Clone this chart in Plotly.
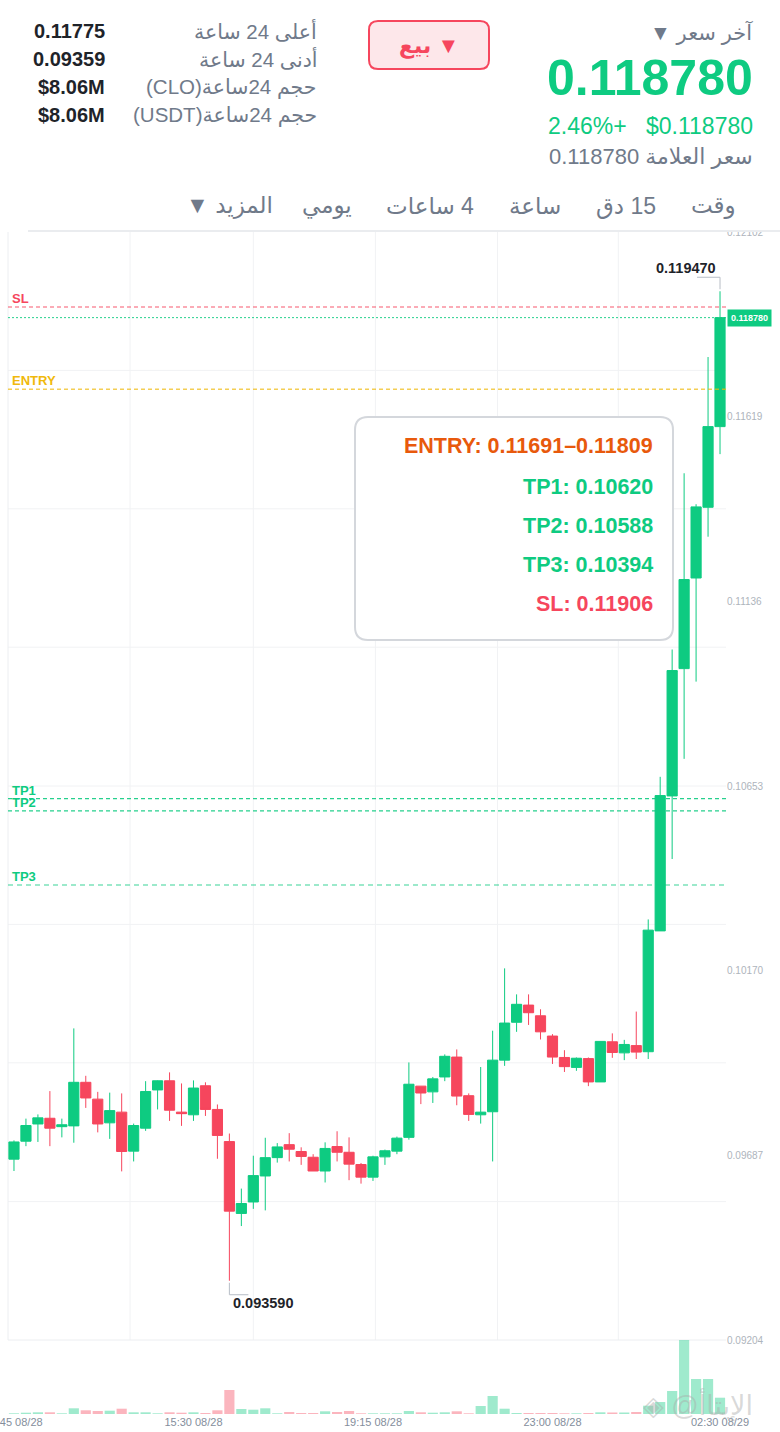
import plotly.graph_objects as go

# 15-minute candles, 11:45 08/28 -> 02:30 08/29
opens = [0.09677, 0.09724, 0.09769, 0.09784, 0.09762, 0.09764, 0.09878, 0.09834, 0.09772, 0.09800,
         0.09698, 0.09758, 0.09858, 0.09882, 0.09800, 0.09793, 0.09869, 0.09807, 0.09723, 0.09535,
         0.09565, 0.09633, 0.09681, 0.09715, 0.09697, 0.09682, 0.09646, 0.09710, 0.09695, 0.09663,
         0.09630, 0.09683, 0.09698, 0.09734, 0.09868, 0.09853, 0.09892, 0.09944, 0.09843, 0.09793,
         0.09801, 0.09936, 0.10035, 0.10080, 0.10052, 0.09999, 0.09943, 0.09917, 0.09940, 0.09879,
         0.09984, 0.09955, 0.09974, 0.09958, 0.10274, 0.10627, 0.10960, 0.11197, 0.11382, 0.11593]
highs = [0.09726, 0.09783, 0.09794, 0.09855, 0.09783, 0.10019, 0.09895, 0.09853, 0.09851, 0.09849,
         0.09770, 0.09881, 0.09883, 0.09904, 0.09875, 0.09883, 0.09878, 0.09820, 0.09744, 0.09600,
         0.09686, 0.09733, 0.09719, 0.09745, 0.09708, 0.09690, 0.09721, 0.09750, 0.09734, 0.09667,
         0.09686, 0.09702, 0.09736, 0.09930, 0.09868, 0.09892, 0.09951, 0.09964, 0.09849, 0.09918,
         0.10013, 0.10176, 0.10108, 0.10108, 0.10069, 0.10004, 0.09962, 0.09943, 0.09943, 0.09985,
         0.10006, 0.09989, 0.10063, 0.10304, 0.10677, 0.11010, 0.11471, 0.11390, 0.11775, 0.11947]
lows = [0.09646, 0.09711, 0.09722, 0.09711, 0.09734, 0.09720, 0.09811, 0.09747, 0.09730, 0.09645,
        0.09671, 0.09751, 0.09807, 0.09777, 0.09764, 0.09777, 0.09790, 0.09678, 0.09359, 0.09502,
        0.09547, 0.09543, 0.09668, 0.09671, 0.09662, 0.09646, 0.09616, 0.09671, 0.09622, 0.09613,
        0.09620, 0.09662, 0.09690, 0.09728, 0.09821, 0.09824, 0.09881, 0.09818, 0.09777, 0.09770,
        0.09671, 0.09921, 0.10010, 0.10028, 0.09990, 0.09926, 0.09905, 0.09908, 0.09868, 0.09879,
        0.09942, 0.09936, 0.09939, 0.09939, 0.10274, 0.10462, 0.10724, 0.10926, 0.11305, 0.11521]
closes = [0.09722, 0.09765, 0.09785, 0.09758, 0.09767, 0.09878, 0.09837, 0.09769, 0.09804, 0.09697,
          0.09765, 0.09854, 0.09882, 0.09805, 0.09796, 0.09863, 0.09807, 0.09739, 0.09541, 0.09561,
          0.09634, 0.09681, 0.09709, 0.09703, 0.09684, 0.09646, 0.09705, 0.09695, 0.09664, 0.09630,
          0.09683, 0.09699, 0.09732, 0.09873, 0.09850, 0.09887, 0.09946, 0.09842, 0.09794, 0.09800,
          0.09936, 0.10033, 0.10082, 0.10060, 0.10010, 0.09944, 0.09919, 0.09941, 0.09879, 0.09985,
          0.09956, 0.09977, 0.09957, 0.10276, 0.10628, 0.10955, 0.11193, 0.11383, 0.11593, 0.11878]
# volume, thousand USDT
volumes = [14, 26, 34, 34, 14, 114, 74, 60, 66, 106,
           34, 34, 14, 34, 26, 34, 20, 74, 480, 100,
           86, 114, 14, 40, 20, 20, 54, 40, 60, 14,
           14, 14, 14, 60, 34, 26, 34, 54, 14, 160,
           360, 106, 20, 20, 20, 20, 14, 14, 20, 34,
           30, 30, 40, 166, 240, 460, 1480, 700, 700, 326]

tick_pos = [0, 15, 30, 45, 59]
tick_text = ["11:45 08/28", "15:30 08/28", "19:15 08/28", "23:00 08/28", "02:30 08/29"]
price_ticks = [0.12102, 0.11619, 0.11136, 0.10653, 0.10170, 0.09687, 0.09204]

entry = [0.11691, 0.11809]
tps = [0.10620, 0.10588, 0.10394]
sl = 0.11906
last_price = 0.118780
high_24h = 0.11775
low_24h = 0.09359
vol_clo = "$8.06M"
vol_usdt = "$8.06M"
change_pct = 2.46

# layout constants
UP = "#0ecb81"
DOWN = "#f6465d"
UP_LIGHT = "rgba(14,203,129,0.4)"
DOWN_LIGHT = "rgba(246,70,93,0.4)"
GRAY = "#707a8a"
DARK = "#1e2329"
GRID = "#f1f2f4"
FONT = "Liberation Sans, Arial, DejaVu Sans, sans-serif"
W, H = 780, 1432
L, R, T, B = 8, 54, 232, 18
VOL_TOP = 74 / (H - T - B)
grid_prices = [0.11740, 0.11378, 0.11016, 0.10653, 0.10291, 0.09929, 0.09566]
grid_times = [9.7, 20.0, 30.2, 40.4, 50.5]


def px_x(x):
    return (x - L) / (W - L - R)


def px_y(y):
    return (H - B - y) / (H - T - B)


def rtl(s):
    return "\u202b" + s + "\u202c"


def rounded(x0, y0, x1, y1, r):
    X, Y = px_x, px_y
    return (f"M {X(x0 + r)},{Y(y0)} L {X(x1 - r)},{Y(y0)} Q {X(x1)},{Y(y0)} {X(x1)},{Y(y0 + r)} "
            f"L {X(x1)},{Y(y1 - r)} Q {X(x1)},{Y(y1)} {X(x1 - r)},{Y(y1)} L {X(x0 + r)},{Y(y1)} "
            f"Q {X(x0)},{Y(y1)} {X(x0)},{Y(y1 - r)} L {X(x0)},{Y(y0 + r)} Q {X(x0)},{Y(y0)} {X(x0 + r)},{Y(y0)} Z")


idx = list(range(len(opens)))

fig = go.Figure()
fig.add_trace(go.Candlestick(
    x=idx, open=opens, high=highs, low=lows, close=closes,
    increasing=dict(line=dict(color=UP, width=1), fillcolor=UP),
    decreasing=dict(line=dict(color=DOWN, width=1), fillcolor=DOWN),
    whiskerwidth=0, showlegend=False, hoverinfo="skip", xaxis="x", yaxis="y"))
fig.add_trace(go.Bar(
    x=idx, y=volumes, width=0.85,
    marker=dict(color=[UP_LIGHT if c >= o else DOWN_LIGHT for o, c in zip(opens, closes)], line_width=0),
    showlegend=False, hoverinfo="skip", xaxis="x", yaxis="y2"))

shapes = []
for p in grid_prices:
    shapes.append(dict(type="line", xref="x domain", x0=0, x1=1, yref="y", y0=p, y1=p,
                       line=dict(color=GRID, width=1), layer="below"))
for t in grid_times:
    shapes.append(dict(type="line", xref="x", x0=t, x1=t, yref="y domain", y0=0, y1=1,
                       line=dict(color=GRID, width=1), layer="below"))
shapes.append(dict(type="line", xref="x domain", x0=0, x1=0, yref="y domain", y0=0, y1=1,
                   line=dict(color="#eceef1", width=1), layer="below"))
shapes.append(dict(type="line", xref="x domain", x0=0, x1=1, yref="y domain", y0=0, y1=0,
                   line=dict(color="#eceef1", width=1), layer="below"))

levels = [
    ("SL", sl, "rgba(246,70,93,0.6)", "4px,3px", 1.5, DOWN),
    (None, last_price, "rgba(14,203,129,0.9)", "2px,2px", 1, None),
    ("ENTRY", entry[0], "rgba(240,185,11,0.7)", "4px,3px", 1.5, "#f0b90b"),
    ("TP1", tps[0], "rgba(14,203,129,0.9)", "4px,3px", 1.2, UP),
    ("TP2", tps[1], "rgba(14,203,129,0.9)", "4px,3px", 1.2, UP),
    ("TP3", tps[2], "rgba(14,203,129,0.55)", "5px,4px", 1.6, UP),
]
annotations = []
for name, val, col, dash, lw, tcol in levels:
    shapes.append(dict(type="line", xref="x domain", x0=0, x1=1, yref="y", y0=val, y1=val,
                       line=dict(color=col, width=lw, dash=dash), layer="above"))
    if name:
        annotations.append(dict(text=f"<b>{name}</b>", xref="paper", x=px_x(10), xanchor="left",
                                yref="y", y=val, yanchor="bottom", yshift=-1, showarrow=False,
                                font=dict(family=FONT, size=13, color=tcol)))

# header cover + separator
shapes.append(dict(type="rect", xref="paper", yref="paper", x0=px_x(0), x1=px_x(W), y0=px_y(0), y1=px_y(231),
                   fillcolor="white", line_width=0, layer="above"))
shapes.append(dict(type="line", xref="paper", yref="paper", x0=px_x(28), x1=px_x(W), y0=px_y(231), y1=px_y(231),
                   line=dict(color="#eaecef", width=2), layer="above"))
# sell button
shapes.append(dict(type="path", xref="paper", yref="paper", path=rounded(369, 21, 489, 69, 9),
                   fillcolor="#fde7ea", line=dict(color=DOWN, width=2), layer="above"))
# signal box
shapes.append(dict(type="path", xref="paper", yref="paper", path=rounded(355, 417, 673, 640, 13),
                   fillcolor="white", line=dict(color="#d4d7dc", width=2), layer="above"))

# high / low markers
hi_i = highs.index(max(highs))
lo_i = lows.index(min(lows))
shapes.append(dict(type="path", xref="x", yref="y", xsizemode="pixel", ysizemode="pixel",
                   xanchor=hi_i, yanchor=highs[hi_i], path="M 0,2 L 0,14 L -23,14",
                   line=dict(color="#b7bdc6", width=1), layer="above"))
shapes.append(dict(type="path", xref="x", yref="y", xsizemode="pixel", ysizemode="pixel",
                   xanchor=lo_i, yanchor=lows[lo_i], path="M 0,-2 L 0,-14 L 19,-14",
                   line=dict(color="#b7bdc6", width=1), layer="above"))
annotations.append(dict(text=f"<b>{highs[hi_i]:.6f}</b>", x=hi_i, y=highs[hi_i], xref="x", yref="y",
                        xanchor="right", yanchor="middle", xshift=-2, yshift=23, showarrow=False,
                        font=dict(family=FONT, size=14.5, color=DARK)))
annotations.append(dict(text=f"<b>{lows[lo_i]:.6f}</b>", x=lo_i, y=lows[lo_i], xref="x", yref="y",
                        xanchor="left", yanchor="middle", xshift=2, yshift=-22, showarrow=False,
                        font=dict(family=FONT, size=14.5, color=DARK)))

# last price tag
annotations.append(dict(text=f"<b>{last_price:.6f}</b>", xref="paper", x=1, xanchor="left", xshift=1,
                        yref="y", y=last_price, yanchor="middle", showarrow=False, bgcolor=UP,
                        borderpad=3, font=dict(family=FONT, size=9, color="white")))


def label(text, x, y, size, color, anchor="right", bold=False):
    shift = {"right": 3, "left": -3, "center": 0}[anchor]
    annotations.append(dict(text=f"<b>{text}</b>" if bold else text, xref="paper", yref="paper",
                            x=px_x(x), y=px_y(y), xanchor=anchor, yanchor="middle", xshift=shift,
                            showarrow=False, font=dict(family=FONT, size=size, color=color)))


# signal box text
box_lines = [
    (f"ENTRY: {entry[0]:.5f}–{entry[1]:.5f}", "#e8590c", 446),
    (f"TP1: {tps[0]:.5f}", UP, 487),
    (f"TP2: {tps[1]:.5f}", UP, 526),
    (f"TP3: {tps[2]:.5f}", UP, 565),
    (f"SL: {sl:.5f}", DOWN, 604),
]
for txt, col, yy in box_lines:
    label(txt, 652, yy, 21.5, col, bold=True)

# header
label(f"{high_24h:.5f}", 104, 31, 20, DARK, bold=True)
label(f"{low_24h:.5f}", 104, 59, 20, DARK, bold=True)
label(vol_clo, 104, 87, 20, DARK, bold=True)
label(vol_usdt, 104, 115, 20, DARK, bold=True)
label(rtl("أعلى 24 ساعة"), 316, 31, 20.5, GRAY)
label(rtl("أدنى 24 ساعة"), 316, 59, 20.5, GRAY)
label(rtl("حجم 24ساعة(CLO)"), 316, 87, 20.5, GRAY)
label(rtl("حجم 24ساعة(USDT)"), 316, 115, 20.5, GRAY)
label(rtl("▼ بيع"), 429, 46, 22, DOWN, anchor="center", bold=True)
label(rtl("آخر سعر ▼"), 752, 32, 21, GRAY)
label(f"<b>{last_price:.6f}</b>", 752, 78, 50, UP)
label(f"${last_price:.6f}", 752, 126, 23, UP)
label(f"{change_pct:.2f}%+", 626, 126, 23, UP)
label(rtl(f"سعر العلامة {last_price:.6f}"), 752, 156, 22, GRAY)
tabs = [("وقت", 713), ("15 دق", 626), ("ساعة", 535), ("4 ساعات", 430), ("يومي", 327), ("المزيد ▼", 229)]
for txt, xx in tabs:
    label(rtl(txt), xx, 206, 23, GRAY, anchor="center")
label(rtl("الإيتاأ@ ◈"), 698, 1404, 27, "rgba(170,170,170,0.45)", anchor="center")

fig.update_layout(
    width=W, height=H,
    margin=dict(l=L, r=R, t=T, b=B, autoexpand=False),
    paper_bgcolor="white", plot_bgcolor="white",
    boxgap=0.15, boxgroupgap=0, bargap=0.15,
    shapes=shapes, annotations=annotations,
    xaxis=dict(range=[-0.5, len(idx) - 0.5], tickvals=tick_pos, ticktext=tick_text,
               showgrid=False, zeroline=False, showline=False, ticks="", anchor="y2",
               automargin=False, ticklabeloverflow="allow", rangeslider=dict(visible=False),
               tickfont=dict(family=FONT, size=11, color="#848e9c")),
    yaxis=dict(domain=[VOL_TOP, 1], range=[price_ticks[-1], price_ticks[0]], side="right",
               tickvals=price_ticks, ticktext=[f"{v:.5f}" for v in price_ticks],
               showgrid=False, zeroline=False, showline=False, ticks="", anchor="x",
               automargin=False, tickfont=dict(family=FONT, size=10, color="#aeb4bc")),
    yaxis2=dict(domain=[0, VOL_TOP], range=[0, max(volumes)], showgrid=False, zeroline=False,
                showticklabels=False, anchor="x", automargin=False),
    font=dict(family=FONT),
)

fig.write_html("out.html", config={"displayModeBar": False},
               post_script="document.body.style.margin='0';document.body.style.overflow='hidden';")
